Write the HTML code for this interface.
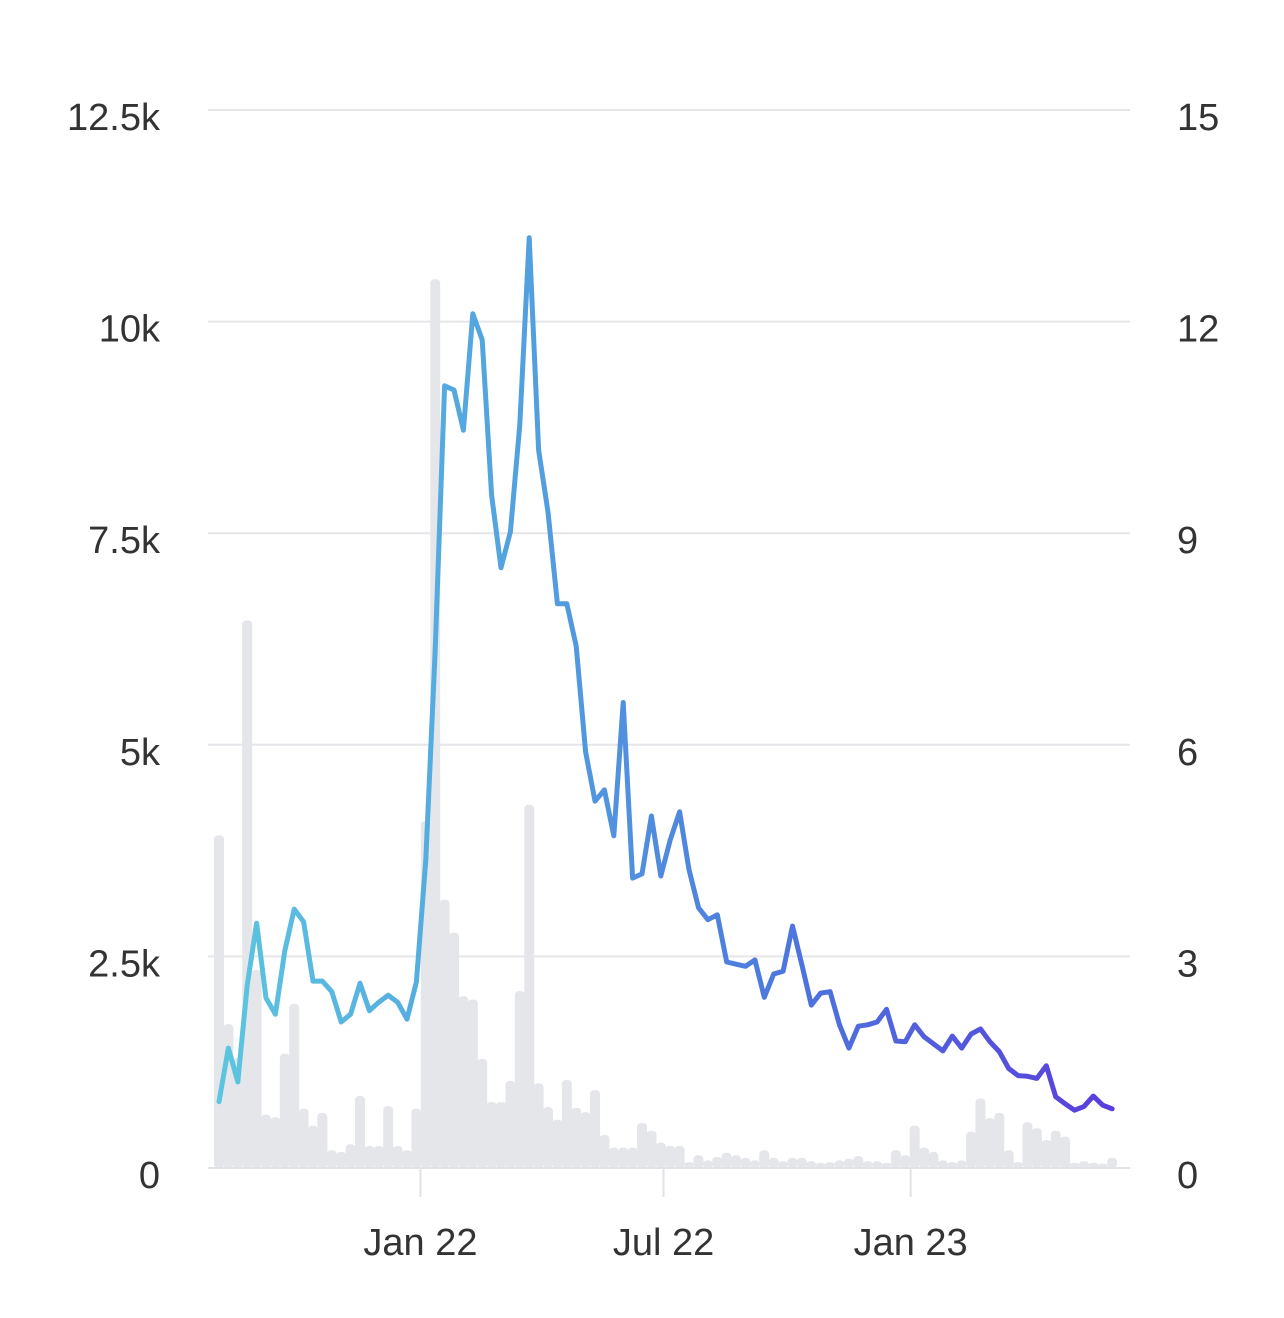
<!DOCTYPE html>
<html><head><meta charset="utf-8"><style>
html,body{margin:0;padding:0;background:#fff;}
svg{display:block;font-family:"Liberation Sans",sans-serif;}
</style></head><body>
<svg id="chart" width="1284" height="1318" viewBox="0 0 1284 1318">
<defs><linearGradient id="lg" gradientUnits="userSpaceOnUse" x1="210" y1="0" x2="1120" y2="0">
<stop offset="0" stop-color="#5cc6e0"/><stop offset="0.35" stop-color="#52a0df"/><stop offset="0.65" stop-color="#4d74de"/><stop offset="1" stop-color="#5a3cdc"/></linearGradient></defs>
<g id="grid"></g><g id="bars"></g><g id="axes"></g><g id="line"></g>
</svg>
<script>
const leftTicks=[0,2500,5000,7500,10000,12500];
const leftTickLabels=["0","2.5k","5k","7.5k","10k","12.5k"];
const rightTicks=[0,3,6,9,12,15];
const dateTicks=["2022-01-01","2022-07-01","2023-01-01"];
const dateTickLabels=["Jan 22","Jul 22","Jan 23"];
const startDate="2021-08-04";
const barValues=[3.93,1.7,1.3,6.47,2.34,0.63,0.6,1.35,1.94,0.7,0.5,0.65,0.21,0.19,0.28,0.85,0.26,0.26,0.73,0.26,0.21,0.7,4.1,10.5,3.17,2.78,2.03,1.99,1.29,0.78,0.78,1.03,2.09,4.29,1.0,
0.72,0.57,1.04,0.71,0.66,0.92,0.39,0.24,0.24,0.24,0.53,0.44,0.3,0.26,0.26,0.07,0.15,0.09,0.13,0.18,0.15,0.12,0.09,0.21,0.12,0.08,0.12,0.12,0.08,0.06,0.07,0.09,0.11,0.14,0.08,0.08,0.06,0.21,0.15,0.5,0.24,0.19,0.09,0.07,0.09,0.43,0.82,0.59,0.65,0.21,0.07,0.54,0.47,0.33,0.44,0.37,0.06,0.08,0.06,0.05,0.12];
const lineValues=[0.94,1.7,1.22,2.59,3.47,2.41,2.18,3.08,3.67,3.49,2.65,2.65,2.5,2.07,2.18,2.62,2.23,2.35,2.45,2.35,2.11,2.64,4.37,7.35,11.09,11.03,10.46,12.11,11.74,9.54,8.51,9.02,10.54,13.19,10.18,9.3,8.0,8.0,7.4,5.9,5.2,5.36,4.71,6.6,4.11,4.17,4.99,4.14,4.65,5.05,4.23,3.69,3.52,3.59,2.92,2.89,2.86,2.95,2.42,2.75,2.79,3.43,2.88,2.31,2.48,2.5,2.03,1.7,2.01,2.03,2.07,2.25,1.8,1.79,2.03,1.86,1.76,1.66,1.87,1.7,1.9,1.97,1.79,1.65,1.41,1.31,1.3,1.27,1.45,1.01,0.91,0.82,0.87,1.02,0.89,0.84];

const NS="http://www.w3.org/2000/svg";
const y0=1168,yTop=110,x0=208,x1=1130;
const yL=v=>y0-(v/12500)*(y0-yTop);
const yR=v=>y0-(v/15)*(y0-yTop);
const pxPerDay=1.343, xStart=219;
const t0=Date.parse(startDate);
const xDate=d=>xStart+((Date.parse(d)-t0)/86400000)*pxPerDay;
const xWeek=i=>xStart+i*7*pxPerDay;
function mk(tag,attrs,parent){const e=document.createElementNS(NS,tag);for(const k in attrs)e.setAttribute(k,attrs[k]);parent.appendChild(e);return e;}
const grid=document.getElementById('grid'),bars=document.getElementById('bars'),axes=document.getElementById('axes'),lineG=document.getElementById('line');
leftTicks.forEach((v,i)=>{
  const y=yL(v);
  if(i>0){const g=mk('line',{x1:x0,x2:x1,y1:y,y2:y,stroke:'#e6e6ea','stroke-width':2},grid);
  
  }
  const t=mk('text',{x:160,y:y+20,'text-anchor':'end','font-size':38,fill:'#333'},axes);t.textContent=leftTickLabels[i];
  
  
});
rightTicks.forEach(v=>{
  const t=mk('text',{x:1177,y:yR(v)+20,'font-size':38,fill:'#333'},axes);t.textContent=String(v);
  
  
});
barValues.forEach((v,i)=>{
  const x=xWeek(i)-5,y=yL(v*1000),h=y0-y;
  const b=mk('rect',{x:x,y:y,width:10,height:h,rx:4,fill:'#e5e6ea'},bars);
  
  
});
const base=mk('line',{x1:x0,x2:x1,y1:y0,y2:y0,stroke:'#e2e2e6','stroke-width':2},axes);


dateTicks.forEach((d,i)=>{
  const x=xDate(d);
  const tk=mk('line',{x1:x,x2:x,y1:y0,y2:1197,stroke:'#e2e2e6','stroke-width':2},axes);
  
  
  const t=mk('text',{x:x,y:1255,'text-anchor':'middle','font-size':38,fill:'#333'},axes);t.textContent=dateTickLabels[i];
  
  
});
const pts=lineValues.map((v,i)=>xWeek(i).toFixed(1)+','+yR(v).toFixed(1)).join(' ');
const pl=mk('polyline',{points:pts,fill:'none',stroke:'url(#lg)','stroke-width':5,'stroke-linejoin':'round','stroke-linecap':'round'},lineG);


</script>
</body></html>
